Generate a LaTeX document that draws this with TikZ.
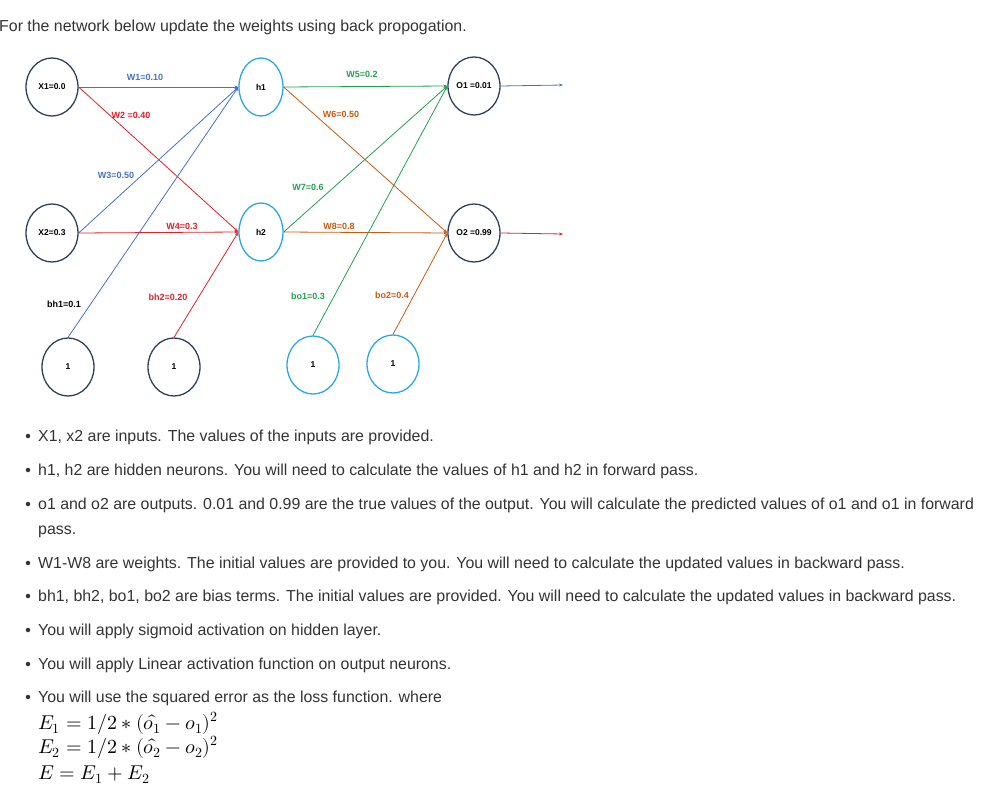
\documentclass[tikz,border=0pt]{standalone}
\usepackage{fontspec}
\setmainfont{Liberation Sans}
\usepackage{unicode-math}
\setmathfont{Latin Modern Math}
\usetikzlibrary{arrows.meta,shapes.geometric}
\definecolor{navy}{HTML}{2F3E5C}
\definecolor{cyanc}{HTML}{29A8E0}
\definecolor{eblue}{HTML}{4472C4}
\definecolor{ered}{HTML}{E0202A}
\definecolor{egreen}{HTML}{22A050}
\definecolor{eorange}{HTML}{C55A11}
\definecolor{txt}{HTML}{333333}
\begin{document}
\begin{tikzpicture}[x=1pt,y=-1pt,
  neur/.style={ellipse,draw=#1,line width=1.3pt,minimum width=52pt,minimum height=58pt,inner sep=0pt,font=\fontsize{8.5}{9}\selectfont\bfseries},
  hid/.style={neur=cyanc,minimum width=44pt},
  lbl/.style={font=\fontsize{9}{10}\selectfont\bfseries},
  edge/.style={draw=#1,line width=0.8pt,-{Stealth[length=4pt,width=3pt]}},
  body/.style={anchor=base west,font=\fontsize{15.9}{17}\selectfont,text=txt,inner sep=0pt},
  bul/.style={circle,fill=txt,inner sep=0pt,minimum size=4.5pt}]
\useasboundingbox (0,0) rectangle (1002,792);
\node[body] (title) at (-1,32) {For the network below update the weights using back propogation.};
% nodes
\node[neur=navy] (x1) at (52,87) {X1=0.0};
\node[neur=navy] (x2) at (52,233) {X2=0.3};
\node[hid] (h1) at (261,87) {h1};
\node[hid] (h2) at (261,232) {h2};
\node[neur=navy] (o1) at (474,86) {O1 =0.01};
\node[neur=navy] (o2) at (474,233) {O2 =0.99};
\node[neur=navy] (b1) at (68,367) {1};
\node[neur=navy] (b2) at (174,367) {1};
\node[neur=cyanc] (b3) at (313,365) {1};
\node[neur=cyanc] (b4) at (393,364) {1};
\coordinate (out1) at (563,85);
\coordinate (out2) at (563,234);
% edges
\draw[edge=eblue] (x1.east) -- (h1.west);
\draw[edge=ered] (x1.east) -- (h2.west);
\draw[edge=eblue] (x2.east) -- (h1.west);
\draw[edge=ered] (x2.east) -- (h2.west);
\draw[edge=eblue] (b1.north) -- (h1.west);
\draw[edge=ered] (b2.north) -- (h2.west);
\draw[edge=egreen] (h1.east) -- (o1.west);
\draw[edge=eorange] (h1.east) -- (o2.west);
\draw[edge=egreen] (h2.east) -- (o1.west);
\draw[edge=eorange] (h2.east) -- (o2.west);
\draw[edge=egreen] (b3.north) -- (o1.west);
\draw[edge=eorange] (b4.north) -- (o2.west);
\draw[edge=eblue] (o1.east) -- (out1);
\draw[edge=ered] (o2.east) -- (out2);
% labels
\node[lbl,text=eblue] (lw1) at (145,77) {W1=0.10};
\node[lbl,text=ered] (lw2) at (131,115) {W2 =0.40};
\node[lbl,text=eblue] (lw3) at (116,175) {W3=0.50};
\node[lbl,text=ered] (lw4) at (182,226) {W4=0.3};
\node[lbl,text=egreen] (lw5) at (362,74) {W5=0.2};
\node[lbl,text=eorange] (lw6) at (341,114) {W6=0.50};
\node[lbl,text=egreen] (lw7) at (308,187) {W7=0.6};
\node[lbl,text=eorange] (lw8) at (339,226) {W8=0.8};
\node[lbl,text=black] (lb1) at (64,304) {bh1=0.1};
\node[lbl,text=ered] (lb2) at (168,297) {bh2=0.20};
\node[lbl,text=egreen] (lb3) at (308,296) {bo1=0.3};
\node[lbl,text=eorange] (lb4) at (392,295) {bo2=0.4};
% bullets
\foreach \y/\t in {441/{X1, x2 are inputs. The values of the inputs are provided.},
  475/{h1, h2 are hidden neurons. You will need to calculate the values of h1 and h2 in forward pass.},
  509/{o1 and o2 are outputs. 0.01 and 0.99 are the true values of the output. You will calculate the predicted values of o1 and o1 in forward},
  568/{W1-W8 are weights. The initial values are provided to you. You will need to calculate the updated values in backward pass.},
  601/{bh1, bh2, bo1, bo2 are bias terms. The initial values are provided. You will need to calculate the updated values in backward pass.},
  635/{You will apply sigmoid activation on hidden layer.},
  669/{You will apply Linear activation function on output neurons.},
  702/{You will use the squared error as the loss function. where}}{
  \node[bul] at (28,\y-5) {};
  \node[body] at (38,\y) {\t};
}
\node[body] (pass) at (38,534) {pass.};
\node[body,font=\fontsize{20}{21}\selectfont,text=black] (e1) at (38,729) {$E_1 = 1/2 * (\hat{o_1} - o_1)^2$};
\node[body,font=\fontsize{20}{21}\selectfont,text=black] (e2) at (38,753) {$E_2 = 1/2 * (\hat{o_2} - o_2)^2$};
\node[body,font=\fontsize{20}{21}\selectfont,text=black] (e3) at (38,779) {$E = E_1 + E_2$};
\end{tikzpicture}
\end{document}
